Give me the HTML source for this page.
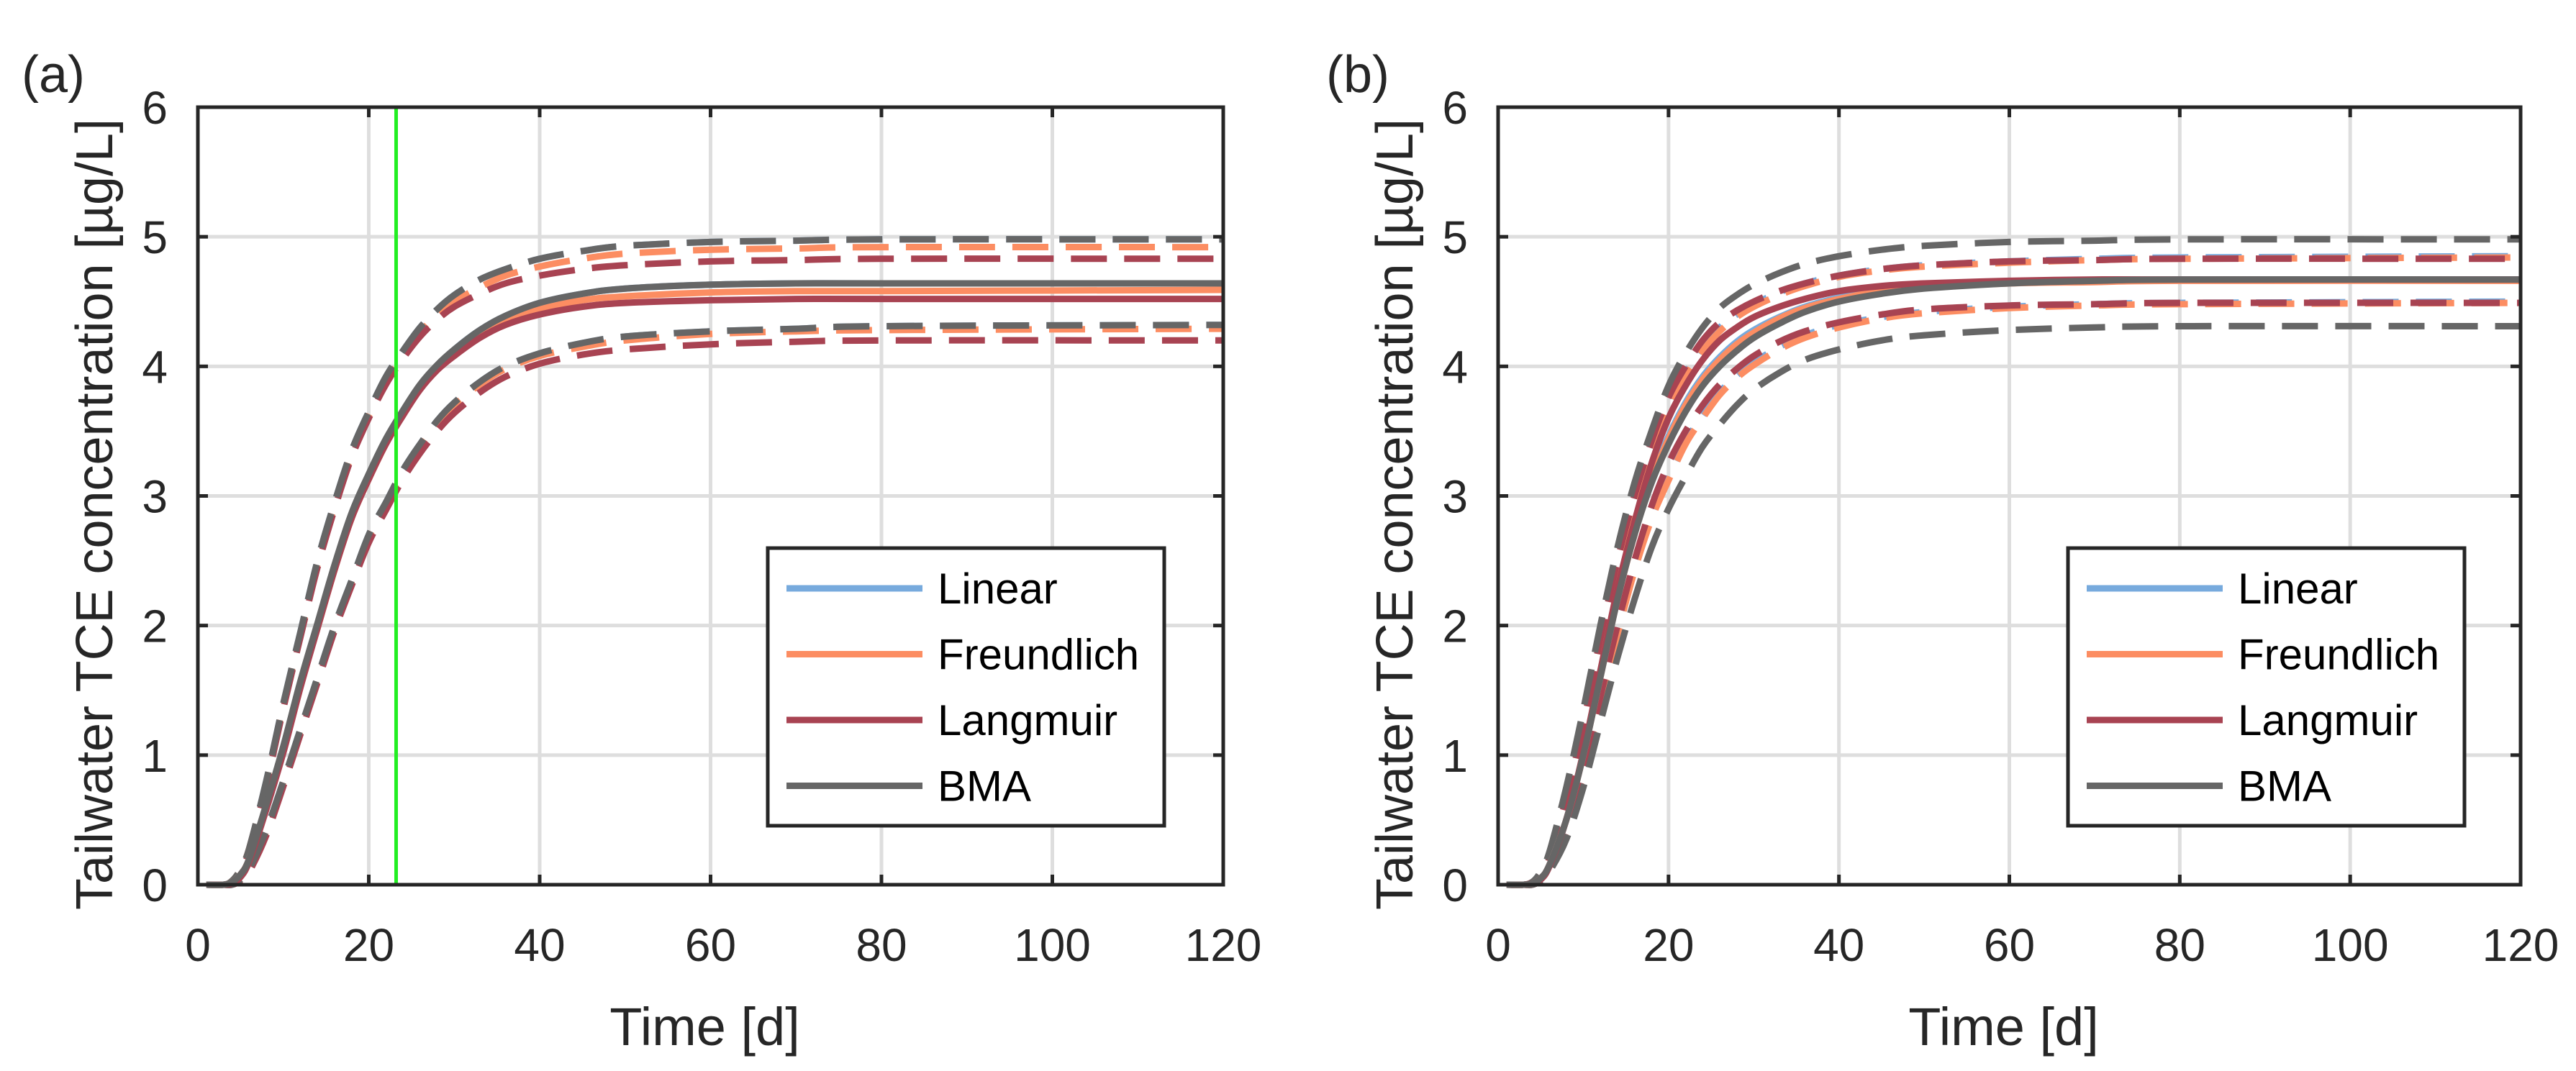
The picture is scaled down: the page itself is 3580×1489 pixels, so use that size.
<!DOCTYPE html>
<html><head><meta charset="utf-8"><style>
html,body{margin:0;padding:0;background:#fff;}
svg{display:block;font-family:"Liberation Sans",Arial,sans-serif;}
</style></head><body>
<svg id="fig" width="3580" height="1489" viewBox="0 0 3580 1489" xmlns="http://www.w3.org/2000/svg"></svg>
<script>
// ---- data ----
const times = [1,3,4,5,6,8,10,12,14,16,18,20,22,24,26,28,30,33,36,40,45,50,60,70,80,120];
const xTicks = [0,20,40,60,80,100,120];
const yTicks = [0,1,2,3,4,5,6];
const seriesNames = ["Linear","Freundlich","Langmuir","BMA"];
const seriesColors = ["#77aadd","#fc8d62","#a84352","#666666"];
const greenLineTime = 23.2;

// Panel (a)
const aLinear     = [0,0,0.02,0.08,0.2,0.6,1.05,1.55,2.0,2.45,2.85,3.15,3.42,3.65,3.85,4.0,4.13,4.28,4.39,4.49,4.56,4.6,4.63,4.64,4.64,4.64];
const aFreundlich = [0,0,0.02,0.08,0.2,0.6,1.04,1.53,1.98,2.43,2.83,3.13,3.4,3.63,3.83,3.98,4.1,4.24,4.35,4.44,4.51,4.54,4.57,4.58,4.58,4.59];
const aLangmuir   = [0,0,0.01,0.06,0.18,0.58,1.02,1.52,1.98,2.43,2.83,3.13,3.4,3.62,3.82,3.97,4.08,4.22,4.32,4.4,4.46,4.49,4.51,4.52,4.52,4.52];
const aBMA        = [0,0,0.02,0.08,0.2,0.62,1.07,1.57,2.02,2.47,2.87,3.17,3.44,3.66,3.86,4.01,4.13,4.28,4.39,4.49,4.56,4.6,4.63,4.64,4.64,4.64];
const aLinearUp     = [0,0,0.03,0.12,0.28,0.8,1.4,1.95,2.5,2.95,3.35,3.65,3.92,4.12,4.3,4.44,4.55,4.67,4.75,4.83,4.89,4.93,4.96,4.97,4.98,4.98];
const aFreundlichUp = [0,0,0.03,0.12,0.28,0.79,1.38,1.93,2.47,2.92,3.32,3.62,3.88,4.08,4.26,4.4,4.5,4.61,4.7,4.77,4.83,4.87,4.9,4.91,4.92,4.92];
const aLangmuirUp   = [0,0,0.02,0.1,0.26,0.77,1.36,1.91,2.45,2.9,3.3,3.6,3.86,4.06,4.23,4.36,4.46,4.56,4.64,4.7,4.75,4.78,4.81,4.82,4.83,4.83];
const aBMAUp        = [0,0,0.03,0.12,0.28,0.8,1.4,1.95,2.5,2.95,3.35,3.65,3.92,4.12,4.3,4.44,4.55,4.67,4.75,4.83,4.89,4.93,4.96,4.97,4.98,4.98];
const aLinearLo     = [0,0,0,0.04,0.12,0.42,0.8,1.2,1.6,2.0,2.35,2.7,2.95,3.2,3.4,3.58,3.72,3.88,4.0,4.1,4.18,4.23,4.27,4.29,4.31,4.32];
const aFreundlichLo = [0,0,0,0.04,0.12,0.41,0.79,1.19,1.59,1.99,2.34,2.68,2.93,3.18,3.38,3.56,3.7,3.86,3.98,4.08,4.15,4.2,4.25,4.27,4.28,4.29];
const aLangmuirLo   = [0,0,0,0.03,0.1,0.38,0.76,1.16,1.56,1.96,2.31,2.64,2.89,3.13,3.33,3.5,3.64,3.8,3.92,4.02,4.09,4.13,4.17,4.19,4.2,4.2];
const aBMALo        = [0,0,0,0.04,0.12,0.42,0.8,1.2,1.6,2.0,2.35,2.7,2.95,3.2,3.4,3.58,3.72,3.88,4.0,4.1,4.18,4.23,4.27,4.29,4.31,4.32];

// Panel (b)
const bLinear     = [0,0,0.01,0.05,0.15,0.5,1.0,1.6,2.2,2.72,3.14,3.46,3.72,3.92,4.07,4.19,4.28,4.38,4.46,4.53,4.59,4.62,4.65,4.66,4.67,4.67];
const bFreundlich = [0,0,0.01,0.05,0.15,0.5,1.0,1.6,2.2,2.7,3.12,3.44,3.7,3.9,4.05,4.17,4.26,4.37,4.45,4.52,4.58,4.61,4.64,4.65,4.66,4.66];
const bLangmuir   = [0,0,0.01,0.04,0.14,0.5,1.02,1.65,2.28,2.8,3.25,3.6,3.85,4.05,4.2,4.3,4.38,4.46,4.52,4.58,4.62,4.64,4.66,4.67,4.67,4.67];
const bBMA        = [0,0,0.01,0.05,0.15,0.5,1.0,1.6,2.2,2.7,3.1,3.4,3.65,3.85,4.0,4.12,4.22,4.33,4.42,4.5,4.56,4.6,4.64,4.66,4.67,4.67];
const bLinearUp     = [0,0,0.02,0.08,0.2,0.65,1.2,1.85,2.45,2.95,3.35,3.7,3.95,4.15,4.3,4.4,4.48,4.57,4.64,4.7,4.75,4.78,4.81,4.83,4.84,4.85];
const bFreundlichUp = [0,0,0.02,0.08,0.2,0.65,1.2,1.85,2.45,2.95,3.35,3.68,3.93,4.12,4.27,4.38,4.46,4.55,4.62,4.69,4.74,4.77,4.8,4.82,4.83,4.84];
const bLangmuirUp   = [0,0,0.02,0.08,0.2,0.67,1.24,1.9,2.5,3.0,3.42,3.76,4.0,4.2,4.34,4.43,4.5,4.58,4.64,4.7,4.75,4.78,4.81,4.82,4.83,4.83];
const bBMAUp        = [0,0,0.02,0.1,0.25,0.75,1.35,2.0,2.6,3.1,3.5,3.85,4.1,4.3,4.45,4.55,4.63,4.72,4.79,4.85,4.9,4.93,4.96,4.97,4.98,4.98];
const bLinearLo     = [0,0,0,0.03,0.1,0.4,0.85,1.4,1.95,2.45,2.85,3.15,3.42,3.62,3.8,3.93,4.03,4.15,4.24,4.32,4.38,4.42,4.46,4.48,4.49,4.5];
const bFreundlichLo = [0,0,0,0.03,0.1,0.4,0.85,1.4,1.93,2.42,2.82,3.12,3.4,3.6,3.78,3.91,4.01,4.13,4.22,4.3,4.37,4.41,4.45,4.47,4.48,4.49];
const bLangmuirLo   = [0,0,0,0.03,0.1,0.42,0.88,1.45,2.0,2.5,2.92,3.25,3.5,3.7,3.86,3.98,4.08,4.19,4.27,4.34,4.4,4.44,4.47,4.48,4.49,4.49];
const bBMALo        = [0,0,0,0.03,0.1,0.35,0.75,1.25,1.75,2.2,2.6,2.9,3.15,3.38,3.55,3.7,3.82,3.95,4.05,4.13,4.2,4.24,4.28,4.3,4.31,4.31];

const NS = "http://www.w3.org/2000/svg";
const svg = document.getElementById("fig");
function el(tag, attrs, parent){
  const e = document.createElementNS(NS, tag);
  for (const k in attrs) e.setAttribute(k, attrs[k]);
  (parent||svg).appendChild(e);
  return e;
}
function smoothPath(pts){
  let d = "M" + pts[0][0].toFixed(1) + "," + pts[0][1].toFixed(1);
  for (let i=0;i<pts.length-1;i++){
    const p0 = pts[Math.max(0,i-1)], p1 = pts[i], p2 = pts[i+1], p3 = pts[Math.min(pts.length-1,i+2)];
    const c1x = p1[0]+(p2[0]-p0[0])/6, c1y = p1[1]+(p2[1]-p0[1])/6;
    const c2x = p2[0]-(p3[0]-p1[0])/6, c2y = p2[1]-(p3[1]-p1[1])/6;
    d += " C"+c1x.toFixed(1)+","+c1y.toFixed(1)+" "+c2x.toFixed(1)+","+c2y.toFixed(1)+" "+p2[0].toFixed(1)+","+p2[1].toFixed(1);
  }
  return d;
}

function panel(cfg){
  const L=cfg.left, R=cfg.right, T=149, B=1230;
  const xs = t => L + (t/120)*(R-L);
  const ys = v => B - (v/6)*(B-T);
  const g = el("g",{});
  
  
  xTicks.forEach(t=>{ if(t>0&&t<120){ const l=el("line",{x1:xs(t),x2:xs(t),y1:T,y2:B,stroke:"#dedede","stroke-width":5},g);
      }});
  yTicks.forEach(v=>{ if(v>0&&v<6){ const l=el("line",{x1:L,x2:R,y1:ys(v),y2:ys(v),stroke:"#dedede","stroke-width":5},g);
      }});
  const clip = el("clipPath",{id:"clip"+cfg.id},g);
  el("rect",{x:L,y:T-10,width:R-L,height:B-T+20},clip);
  const sg = el("g",{"clip-path":"url(#clip"+cfg.id+")"},g);
  const groups = [cfg.lo, cfg.up, cfg.mid];
  groups.forEach((grp,gi)=>{
    grp.forEach((vals,si)=>{
      const pts = times.map((t,i)=>[xs(t), ys(vals[i])]);
      const attrs = {d:smoothPath(pts),fill:"none",stroke:seriesColors[si],"stroke-width":9};
      if (gi<2) attrs["stroke-dasharray"]="50 24";
      const p = el("path",attrs,sg);
      
      
    });
  });
  if (cfg.green){
    const gl = el("line",{x1:xs(greenLineTime),x2:xs(greenLineTime),y1:T,y2:B,stroke:"#22ee22","stroke-width":5},g);
    
    
  }
  xTicks.forEach(t=>{
    el("line",{x1:xs(t),x2:xs(t),y1:B,y2:B-14,stroke:"#262626","stroke-width":5},g);
    el("line",{x1:xs(t),x2:xs(t),y1:T,y2:T+14,stroke:"#262626","stroke-width":5},g);
    const tx = el("text",{x:xs(t),y:1336,"text-anchor":"middle","font-size":64,fill:"#262626"},g);
    tx.textContent = t;
    
    
  });
  yTicks.forEach(v=>{
    el("line",{x1:L,x2:L+14,y1:ys(v),y2:ys(v),stroke:"#262626","stroke-width":5},g);
    el("line",{x1:R,x2:R-14,y1:ys(v),y2:ys(v),stroke:"#262626","stroke-width":5},g);
    const ty = el("text",{x:L-42,y:ys(v)+23,"text-anchor":"end","font-size":64,fill:"#262626"},g);
    ty.textContent = v;
    
    
  });
  const box = el("rect",{x:L,y:T,width:R-L,height:B-T,fill:"none",stroke:"#262626","stroke-width":5},g);
  
  
  const xt = el("text",{x:(L+R)/2-8,y:1453,"text-anchor":"middle","font-size":74,fill:"#262626"},g);
  xt.textContent = "Time [d]";
  
  
  const yt = el("text",{x:0,y:0,"font-size":72,fill:"#262626",textLength:1100,lengthAdjust:"spacingAndGlyphs",transform:"translate("+(L-119)+",1265) rotate(-90)"},g);
  yt.textContent = "Tailwater TCE concentration [µg/L]";
  
  
  const pl = el("text",{x:cfg.labelX,y:128,"font-size":72,fill:"#262626"},g);
  pl.textContent = cfg.label;
  
  
  const lx = L+792, ly = 762;
  const lg = el("g",{},g);
  
  
  el("rect",{x:lx,y:ly,width:551,height:386,fill:"#fff",stroke:"#262626","stroke-width":5},lg);
  seriesNames.forEach((n,i)=>{
    const yy = 818 + i*91.5;
    const ln = el("line",{x1:lx+26,x2:lx+215,y1:yy,y2:yy,stroke:seriesColors[i],"stroke-width":9},lg);
    
    
    const tx = el("text",{x:lx+236,y:yy+21,"font-size":60,fill:"#000"},lg);
    tx.textContent = n;
    
    
  });
}

panel({id:"a",name:"panel-a",left:275,right:1700,label:"(a)",labelX:30,green:true,
  mid:[aLinear,aFreundlich,aLangmuir,aBMA],
  up:[aLinearUp,aFreundlichUp,aLangmuirUp,aBMAUp],
  lo:[aLinearLo,aFreundlichLo,aLangmuirLo,aBMALo]});
panel({id:"b",name:"panel-b",left:2082,right:3503,label:"(b)",labelX:1843,green:false,
  mid:[bLinear,bFreundlich,bLangmuir,bBMA],
  up:[bLinearUp,bFreundlichUp,bLangmuirUp,bBMAUp],
  lo:[bLinearLo,bFreundlichLo,bLangmuirLo,bBMALo]});
</script>
</body></html>
